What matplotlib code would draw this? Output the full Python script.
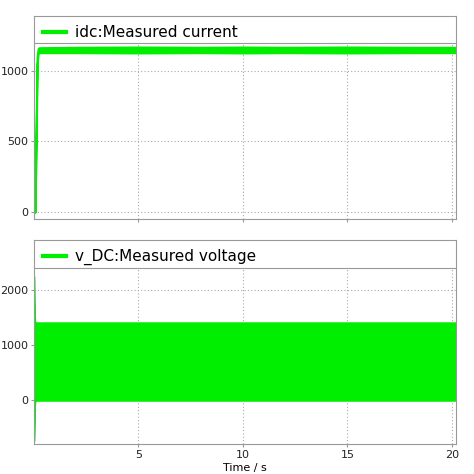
import matplotlib
matplotlib.use("Agg")
import matplotlib.pyplot as plt
from matplotlib.lines import Line2D

# idc envelope
t_i = [0.0, 0.05, 0.1, 0.15, 0.2, 0.25, 2, 5, 8, 10, 12, 15, 18, 20.2]
idc_hi = [0, 0, 600, 1100, 1160, 1165, 1168, 1170, 1168, 1170, 1168, 1170, 1168, 1168]
idc_lo = [0, 0, 500, 1050, 1125, 1130, 1130, 1128, 1130, 1128, 1130, 1128, 1130, 1130]
# v_DC envelope
t_v = [0.0, 0.02, 0.04, 0.06, 0.08, 0.1, 2, 5, 10, 15, 20.2]
v_hi = [2250, 1800, 1500, 1400, 1400, 1410, 1410, 1410, 1410, 1410, 1410]
v_lo = [-750, -500, -100, -10, 0, -10, -10, -10, -10, -10, -10]

green = "#00ee00"
fig = plt.figure(figsize=(4.74, 4.74), dpi=100)
ax1 = fig.add_axes([34/474, 1-219/474, 422/474, 203/474])
ax2 = fig.add_axes([34/474, 1-444/474, 422/474, 204/474])

def style(ax, ylim, yticks, hdr, label):
    ax.set_xlim(0, 20.2)
    ax.set_ylim(*ylim)
    ax.set_yticks(yticks)
    ax.set_xticks([5, 10, 15, 20])
    ax.grid(True, linestyle=(0, (1, 2)), color="#aaaaaa", linewidth=0.8)
    for s in ax.spines.values():
        s.set_color("#999999")
        s.set_zorder(6)
    ax.tick_params(colors="#222222", labelsize=8, length=2, pad=2, color="#999999")
    ax.fill_between([0, 20.2], hdr, ylim[1], color="white", zorder=3)
    ax.axhline(hdr, color="#999999", linewidth=0.8, zorder=4)
    ax.legend([Line2D([], [], color=green, lw=3)], [label], loc="upper left",
              frameon=False, fontsize=11, handlelength=1.5,
              borderaxespad=0.2, handletextpad=0.6).set_zorder(5)

ax1.fill_between(t_i, idc_lo, idc_hi, color=green, linewidth=1.5, edgecolor=green, zorder=2)
style(ax1, (-50, 1390), [0, 500, 1000], 1199, "idc:Measured current")
ax1.tick_params(labelbottom=False)

ax2.fill_between(t_v, v_lo, v_hi, color=green, linewidth=1, edgecolor=green, zorder=2)
style(ax2, (-800, 2910), [0, 1000, 2000], 2400, "v_DC:Measured voltage")
ax2.set_xlabel("Time / s", fontsize=8)
ax2.xaxis.set_label_coords(0.5, -0.095)

fig.savefig("out.png", dpi=100)
